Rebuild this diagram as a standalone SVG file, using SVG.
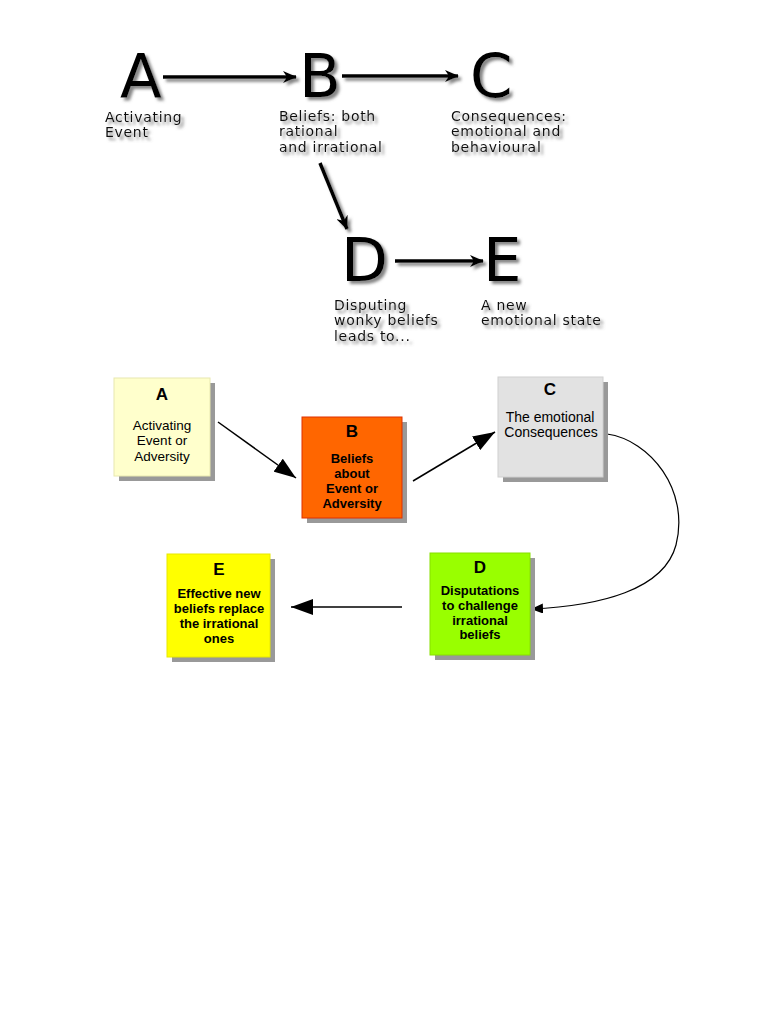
<svg xmlns="http://www.w3.org/2000/svg" width="768" height="1024" viewBox="0 0 768 1024">
<style>
.big{font-family:"DejaVu Sans",sans-serif;font-size:61px;fill:#000}
.lbl{font-family:"DejaVu Sans",sans-serif;font-size:14px;letter-spacing:0.7px;fill:#111}
.shd{filter:url(#ds)}
.tline{stroke:#000;stroke-width:3.5;fill:none}
.face{stroke-width:1}
.sh{fill:#999}
.t{font-family:"Liberation Sans",Arial,sans-serif;text-anchor:middle;fill:#000}
.h{font-size:17px;font-weight:bold}
.r{font-size:13.5px}
.b{font-size:13px;font-weight:bold}
.conn{stroke:#000;stroke-width:1.5;fill:none}
</style>
<defs>
<filter id="ds" x="-20%" y="-20%" width="150%" height="160%">
<feDropShadow dx="3" dy="3" stdDeviation="1.6" flood-color="#777" flood-opacity="0.9"/>
</filter>
<marker id="barb" viewBox="0 0 14 12" refX="13" refY="6" markerWidth="14" markerHeight="12" markerUnits="userSpaceOnUse" orient="auto">
<path d="M0,0 L14,6 L0,12 L4,6 z" fill="#000"/>
</marker>
<marker id="tri" viewBox="0 0 22 16" refX="22" refY="8" markerWidth="22" markerHeight="16" markerUnits="userSpaceOnUse" orient="auto">
<path d="M0,0 L22,8 L0,16 z" fill="#000"/>
</marker>
<marker id="tris" viewBox="0 0 12 10" refX="12" refY="5" markerWidth="12" markerHeight="10" markerUnits="userSpaceOnUse" orient="auto">
<path d="M0,0 L12,5 L0,10 z" fill="#000"/>
</marker>
</defs>
<rect width="768" height="1024" fill="#fff"/>

<!-- Top diagram -->
<g id="top-connectors" class="shd">
<line class="tline" x1="163" y1="77" x2="296" y2="77" marker-end="url(#barb)"/>
<line class="tline" x1="342" y1="76" x2="458" y2="76" marker-end="url(#barb)"/>
<line class="tline" x1="320" y1="163" x2="347" y2="229" marker-end="url(#barb)"/>
<line class="tline" x1="395" y1="261" x2="483" y2="261" marker-end="url(#barb)"/>
</g>
<g id="top-A" class="shd">
<text class="big" x="120" y="97">A</text>
<text class="lbl" x="105" y="122">Activating</text>
<text class="lbl" x="105" y="137">Event</text>
</g>
<g id="top-B" class="shd">
<text class="big" x="299" y="97">B</text>
<text class="lbl" x="279" y="121">Beliefs: both</text>
<text class="lbl" x="279" y="136">rational</text>
<text class="lbl" x="279" y="152">and irrational</text>
</g>
<g id="top-C" class="shd">
<text class="big" x="470" y="97">C</text>
<text class="lbl" x="451" y="121">Consequences:</text>
<text class="lbl" x="451" y="136">emotional and</text>
<text class="lbl" x="451" y="152">behavioural</text>
</g>
<g id="top-D" class="shd">
<text class="big" x="341" y="281">D</text>
<text class="lbl" x="334" y="310">Disputing</text>
<text class="lbl" x="334" y="325">wonky beliefs</text>
<text class="lbl" x="334" y="341">leads to...</text>
</g>
<g id="top-E" class="shd">
<text class="big" x="483" y="281">E</text>
<text class="lbl" x="481" y="310">A new</text>
<text class="lbl" x="481" y="325">emotional state</text>
</g>

<!-- Bottom diagram -->
<g id="connectors">
<line class="conn" x1="218" y1="422" x2="296" y2="478" marker-end="url(#tri)"/>
<line class="conn" x1="413" y1="481" x2="495" y2="432" marker-end="url(#tri)"/>
<path class="conn" d="M607,434 C650,440 690,490 676,545 C664,590 600,606 531,609" marker-end="url(#tris)" style="stroke-width:1.2"/>
<line class="conn" x1="402" y1="607" x2="291" y2="607" marker-end="url(#tri)"/>
</g>
<g id="nodeA">
<rect class="sh" x="119" y="383" width="96" height="98"/>
<rect class="face" x="114" y="378" width="96" height="98" fill="#FFFFCC" stroke="#E8E8B0"/>
<text class="t h" x="162" y="400">A</text>
<text class="t r" x="162" y="430">Activating</text>
<text class="t r" x="162" y="445">Event or</text>
<text class="t r" x="162" y="461">Adversity</text>
</g>
<g id="nodeB">
<rect class="sh" x="307" y="422" width="100" height="101"/>
<rect class="face" x="302" y="417" width="100" height="101" fill="#FF6600" stroke="#E03000"/>
<text class="t h" x="352" y="437">B</text>
<text class="t b" x="352" y="463">Beliefs</text>
<text class="t b" x="352" y="478">about</text>
<text class="t b" x="352" y="493">Event or</text>
<text class="t b" x="352" y="508">Adversity</text>
</g>
<g id="nodeC">
<rect class="sh" x="503" y="382" width="105" height="100"/>
<rect class="face" x="498" y="377" width="105" height="100" fill="#E2E2E2" stroke="#D0D0D0"/>
<text class="t h" x="550" y="395">C</text>
<text class="t" style="font-size:14px" x="550" y="422">The emotional</text>
<text class="t" style="font-size:14px" x="551" y="437">Consequences</text>
</g>
<g id="nodeD">
<rect class="sh" x="435" y="558" width="100" height="102"/>
<rect class="face" x="430" y="553" width="100" height="102" fill="#99FF00" stroke="#88E000"/>
<text class="t h" x="480" y="573">D</text>
<text class="t b" x="480" y="595">Disputations</text>
<text class="t b" x="480" y="610">to challenge</text>
<text class="t b" x="480" y="625">irrational</text>
<text class="t b" x="480" y="639">beliefs</text>
</g>
<g id="nodeE">
<rect class="sh" x="172" y="559" width="103" height="103"/>
<rect class="face" x="167" y="554" width="103" height="103" fill="#FFFF00" stroke="#E8E800"/>
<text class="t h" x="219" y="575">E</text>
<text class="t b" x="219" y="598">Effective new</text>
<text class="t b" x="219" y="613">beliefs replace</text>
<text class="t b" x="219" y="628">the irrational</text>
<text class="t b" x="219" y="643">ones</text>
</g>
</svg>
